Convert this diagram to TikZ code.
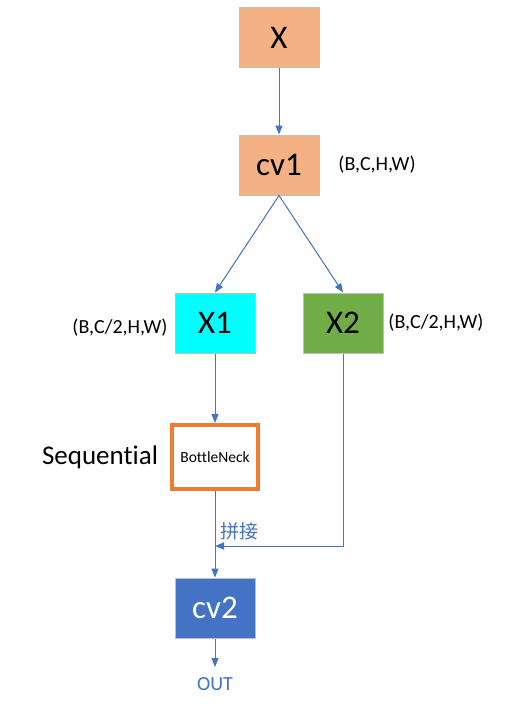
\documentclass[tikz,border=0pt]{standalone}
\usepackage{fontspec}
\setmainfont[Ligatures=NoCommon]{Carlito}
\newfontfamily\cjk{Noto Sans CJK SC}
\usetikzlibrary{arrows.meta}
\definecolor{peach}{HTML}{F4B183}
\definecolor{lineblue}{HTML}{4472C4}
\definecolor{grn}{HTML}{70AD47}
\definecolor{orng}{HTML}{ED7D31}
\definecolor{aqua}{HTML}{00FFFF}
\definecolor{boxedge}{HTML}{BFBFBF}
\tikzset{
  blk/.style={draw=boxedge, line width=1pt, minimum width=80pt, minimum height=60pt, inner sep=0pt, font=\fontsize{33}{38}\selectfont},
  lbl/.style={inner sep=0pt, font=\fontsize{20}{24}\selectfont},
  conn/.style={draw=lineblue, line width=1pt, -{Triangle[length=9pt,width=7pt]}},
}
\begin{document}
\begin{tikzpicture}[x=1pt,y=-1pt]
\useasboundingbox[fill=white] (0,0) rectangle (529,709);
\node[blk, fill=peach] (x) at (279,38) {X};
\node[blk, fill=peach] (cv1) at (279,165) {cv1};
\node[blk, fill=aqua] (x1) at (215,323) {X1};
\node[blk, fill=grn] (x2) at (343,323) {X2};
\node[draw=orng, line width=4pt, minimum width=86pt, minimum height=64pt, inner sep=0pt, font=\fontsize{15.5}{18}\selectfont] (bn) at (215,457) {BottleNeck};
\node[blk, fill=lineblue, text=white] (cv2) at (215,608) {cv2};
\node[lbl] (l1) at (377,165) {(B,C,H,W)};
\node[lbl] (l2) at (120,328) {(B,C/2,H,W)};
\node[lbl] (l3) at (436,323) {(B,C/2,H,W)};
\node[inner sep=0pt, font=\fontsize{27}{32}\selectfont] (seq) at (100,457) {Sequential};
\node[lbl, text=lineblue] (out) at (215,684) {OUT};
\node[inner sep=0pt, text=lineblue, font=\cjk\fontsize{19}{23}\selectfont] (pj) at (239,531) {拼接};
\coordinate (join) at (215,546);
\coordinate (outtip) at (215,667);
\draw[conn] (x) -- (cv1);
\draw[conn] (cv1.south) -- (x1.north);
\draw[conn] (cv1.south) -- (x2.north);
\draw[conn] (x1) -- (bn);
\draw[conn] (bn) -- (cv2);
\draw[conn] (x2.south) |- (join);
\draw[conn] (cv2.south) -- (outtip);
\end{tikzpicture}
\end{document}
